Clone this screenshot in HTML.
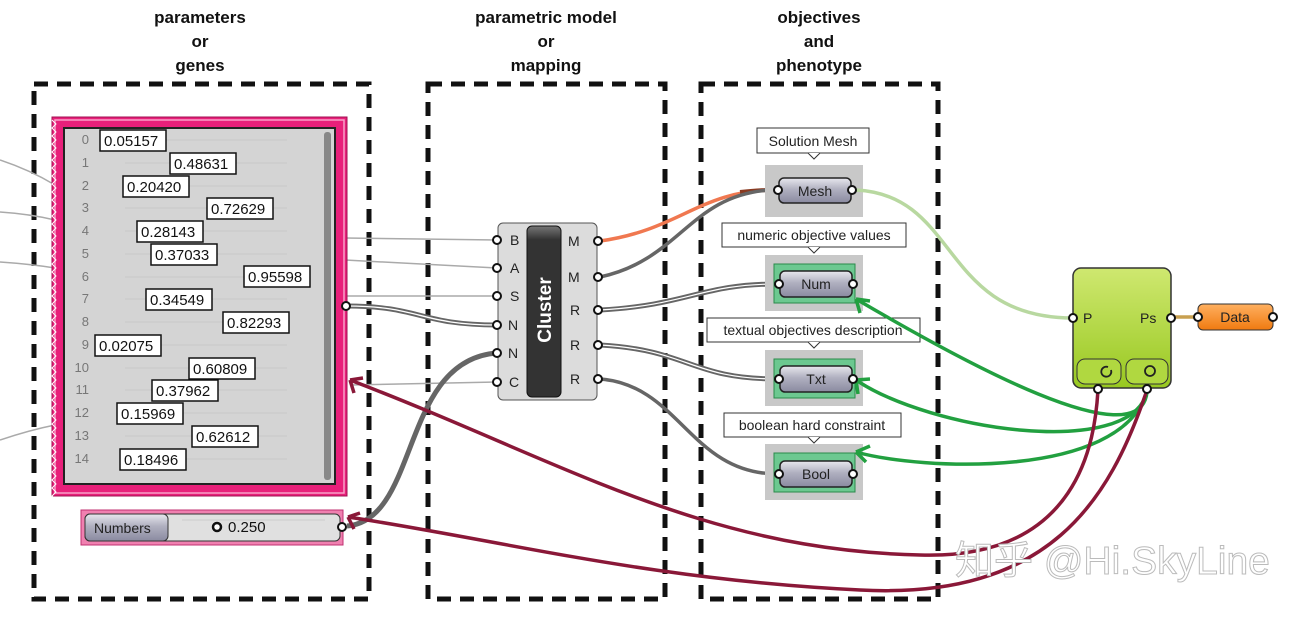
<!DOCTYPE html>
<html><head><meta charset="utf-8"><style>
body{margin:0;background:#fff;width:1305px;height:618px;overflow:hidden}
svg{display:block}
text{font-family:"Liberation Sans",sans-serif}
.t{font-weight:bold;font-size:17px;fill:#111}
.v{font-size:15px;fill:#111}
.i{font-family:"Liberation Mono",monospace;font-size:13px;fill:#777}
.n{font-size:14px;fill:#222}
</style></head><body>
<svg width="1305" height="618" viewBox="0 0 1305 618">
<defs>
<linearGradient id="node" x1="0" y1="0" x2="0" y2="1"><stop offset="0" stop-color="#e8e8ee"/><stop offset=".45" stop-color="#b0b0c0"/><stop offset="1" stop-color="#8a8aa0"/></linearGradient>
<linearGradient id="org" x1="0" y1="0" x2="0" y2="1"><stop offset="0" stop-color="#ffb060"/><stop offset="1" stop-color="#f07a10"/></linearGradient>
<linearGradient id="grn" x1="0" y1="0" x2="0" y2="1"><stop offset="0" stop-color="#cfe870"/><stop offset="1" stop-color="#98c820"/></linearGradient>
<linearGradient id="bar" x1="0" y1="0" x2="0" y2="1"><stop offset="0" stop-color="#777"/><stop offset=".08" stop-color="#333"/><stop offset="1" stop-color="#333"/></linearGradient>
</defs>
<g class="t" text-anchor="middle">
<text x="200" y="23">parameters</text><text x="200" y="47">or</text><text x="200" y="71">genes</text>
<text x="546" y="23">parametric model</text><text x="546" y="47">or</text><text x="546" y="71">mapping</text>
<text x="819" y="23">objectives</text><text x="819" y="47">and</text><text x="819" y="71">phenotype</text>
</g>
<g fill="none" stroke="#111" stroke-width="5" stroke-dasharray="14,9">
<rect x="34" y="84" width="335" height="515"/>
<rect x="428" y="84" width="237" height="515"/>
<rect x="701" y="84" width="237" height="515"/>
</g>
<g stroke="#aaa" stroke-width="1.5" fill="none">
<path d="M0 160 Q30 170 55 185"/><path d="M0 212 Q30 214 55 220"/><path d="M0 262 Q30 264 55 268"/><path d="M0 440 Q30 430 55 425"/>
<path d="M345 238 L497 240"/><path d="M345 260 L497 268"/><path d="M345 296 L497 296"/><path d="M350 385 L497 382"/>
</g>
<rect x="52" y="117" width="295" height="379" fill="#e8207a" stroke="#a01050"/>
<rect x="55" y="120" width="289" height="373" fill="none" stroke="#f7a0c8" stroke-width="1.5"/>
<path d="M52 120 l4 4 -4 4 4 4 -4 4 4 4 -4 4 4 4 -4 4 4 4 -4 4 4 4 -4 4 4 4 -4 4 4 4 -4 4 4 4 -4 4 4 4 -4 4 4 4 -4 4 4 4 -4 4 4 4 -4 4 4 4 -4 4 4 4 -4 4 4 4 -4 4 4 4 -4 4 4 4 -4 4 4 4 -4 4 4 4 -4 4 4 4 -4 4 4 4 -4 4 4 4 -4 4 4 4 -4 4 4 4 -4 4 4 4 -4 4 4 4 -4 4 4 4 -4 4 4 4 -4 4 4 4 -4 4 4 4 -4 4 4 4 -4 4 4 4 -4 4 4 4 -4 4 4 4 -4 4 4 4 -4 4 4 4 -4 4 4 4 -4 4 4 4 -4 4 4 4 -4 4 4 4 -4 4 4 4 -4 4 4 4 -4 4 4 4 -4 4 4 4 -4 4 4 4 -4 4 4 4 -4 4 4 4 -4 4 4 4 -4 4 4 4 -4 4 4 4 -4 4" fill="none" stroke="#fff" stroke-width="1"/>
<rect x="64" y="128" width="271" height="356" fill="#d4d4d4" stroke="#222" stroke-width="2"/>
<rect x="324" y="132" width="7" height="348" rx="3" fill="#888"/>
<g stroke="#c8c8c8" stroke-width="1">
<line x1="125" y1="140" x2="287" y2="140"/><line x1="125" y1="163" x2="287" y2="163"/><line x1="125" y1="186" x2="287" y2="186"/><line x1="125" y1="208" x2="287" y2="208"/><line x1="125" y1="231" x2="287" y2="231"/><line x1="125" y1="254" x2="287" y2="254"/><line x1="125" y1="277" x2="287" y2="277"/><line x1="125" y1="299" x2="287" y2="299"/><line x1="125" y1="322" x2="287" y2="322"/><line x1="125" y1="345" x2="287" y2="345"/><line x1="125" y1="368" x2="287" y2="368"/><line x1="125" y1="390" x2="287" y2="390"/><line x1="125" y1="413" x2="287" y2="413"/><line x1="125" y1="436" x2="287" y2="436"/><line x1="125" y1="459" x2="287" y2="459"/>
</g>
<g class="i" text-anchor="end">
<text x="89" y="144">0</text><text x="89" y="167">1</text><text x="89" y="190">2</text><text x="89" y="212">3</text><text x="89" y="235">4</text><text x="89" y="258">5</text><text x="89" y="281">6</text><text x="89" y="303">7</text><text x="89" y="326">8</text><text x="89" y="349">9</text><text x="89" y="372">10</text><text x="89" y="394">11</text><text x="89" y="417">12</text><text x="89" y="440">13</text><text x="89" y="463">14</text>
</g>
<g fill="#fff" stroke="#111" stroke-width="1.5">
<rect x="100" y="130" width="66" height="21"/><rect x="170" y="153" width="66" height="21"/><rect x="123" y="176" width="66" height="21"/><rect x="207" y="198" width="66" height="21"/><rect x="137" y="221" width="66" height="21"/><rect x="151" y="244" width="66" height="21"/><rect x="244" y="266" width="66" height="21"/><rect x="146" y="289" width="66" height="21"/><rect x="223" y="312" width="66" height="21"/><rect x="95" y="335" width="66" height="21"/><rect x="189" y="358" width="66" height="21"/><rect x="152" y="380" width="66" height="21"/><rect x="117" y="403" width="66" height="21"/><rect x="192" y="426" width="66" height="21"/><rect x="120" y="449" width="66" height="21"/>
</g>
<g class="v">
<text x="104" y="146">0.05157</text><text x="174" y="169">0.48631</text><text x="127" y="192">0.20420</text><text x="211" y="214">0.72629</text><text x="141" y="237">0.28143</text><text x="155" y="260">0.37033</text><text x="248" y="282">0.95598</text><text x="150" y="305">0.34549</text><text x="227" y="328">0.82293</text><text x="99" y="351">0.02075</text><text x="193" y="374">0.60809</text><text x="156" y="396">0.37962</text><text x="121" y="419">0.15969</text><text x="196" y="442">0.62612</text><text x="124" y="465">0.18496</text>
</g>
<rect x="81" y="510" width="262" height="35" fill="#f080b0" stroke="#c03070"/>
<rect x="85" y="514" width="255" height="27" rx="5" fill="#e0e0e0" stroke="#333"/>
<rect x="85" y="514" width="83" height="27" rx="5" fill="url(#node)" stroke="#333"/>
<text x="94" y="533" class="n" font-size="15">Numbers</text>
<line x1="182" y1="520" x2="325" y2="520" stroke="#ccc"/>
<circle cx="217" cy="527" r="4" fill="#fff" stroke="#111" stroke-width="2.5"/>
<text x="228" y="532" font-size="15" fill="#111">0.250</text>
<g fill="none" stroke="#666" stroke-width="5"><path d="M347 306 C420 306 420 325 497 325"/><path d="M347 526 C420 520 400 360 497 353"/></g>
<g fill="none" stroke="#fff" stroke-width="1.3"><path d="M347 306 C420 306 420 325 497 325"/></g>
<rect x="498" y="223" width="99" height="177" rx="5" fill="#dcdcdc" stroke="#555"/>
<rect x="527" y="226" width="34" height="171" rx="5" fill="url(#bar)" stroke="#111"/>
<text transform="translate(551 310) rotate(-90)" text-anchor="middle" font-weight="bold" font-size="19" fill="#fff">Cluster</text>
<g class="n" font-size="14">
<text x="510" y="245">B</text><text x="510" y="273">A</text><text x="510" y="301">S</text><text x="508" y="330">N</text><text x="508" y="358">N</text><text x="509" y="387">C</text>
<text x="568" y="246">M</text><text x="568" y="282">M</text><text x="570" y="315">R</text><text x="570" y="350">R</text><text x="570" y="384">R</text>
</g>
<path d="M600 241 C680 230 700 190 775 190" fill="none" stroke="#f07850" stroke-width="3.5"/>
<path d="M740 192 C760 190 765 190 775 190" fill="none" stroke="#8a3a20" stroke-width="4"/>
<path d="M600 277 C680 260 690 195 770 190" fill="none" stroke="#666" stroke-width="3.5"/>
<path d="M600 310 C690 305 700 284 778 284" fill="none" stroke="#666" stroke-width="5"/><path d="M600 310 C690 305 700 284 778 284" fill="none" stroke="#fff" stroke-width="1.2"/>
<path d="M600 345 C690 350 690 379 778 379" fill="none" stroke="#666" stroke-width="5"/><path d="M600 345 C690 350 690 379 778 379" fill="none" stroke="#fff" stroke-width="1.2"/>
<path d="M600 379 C680 385 690 474 778 474" fill="none" stroke="#666" stroke-width="3.5"/>
<g fill="#fff" stroke="#333">
<rect x="757" y="128" width="112" height="25"/><rect x="722" y="223" width="184" height="24"/><rect x="707" y="318" width="213" height="24"/><rect x="724" y="413" width="177" height="24"/>
</g>
<g fill="#fff" stroke="#333"><path d="M808 153 l6 6 6 -6"/><path d="M808 247 l6 6 6 -6"/><path d="M808 342 l6 6 6 -6"/><path d="M808 437 l6 6 6 -6"/></g>
<g class="n" text-anchor="middle">
<text x="813" y="146">Solution Mesh</text><text x="814" y="240">numeric objective values</text><text x="813" y="335">textual objectives description</text><text x="812" y="430">boolean hard constraint</text>
</g>
<g fill="#c8c8c8"><rect x="765" y="165" width="98" height="52"/><rect x="765" y="255" width="98" height="56"/><rect x="765" y="350" width="98" height="56"/><rect x="765" y="444" width="98" height="56"/></g>
<g fill="#6cc890" stroke="#2a8a4a"><rect x="774" y="264" width="81" height="39"/><rect x="774" y="359" width="81" height="39"/><rect x="774" y="453" width="81" height="39"/></g>
<g fill="url(#node)" stroke="#222" stroke-width="1.5">
<rect x="779" y="178" width="72" height="25" rx="5"/><rect x="780" y="271" width="72" height="26" rx="5"/><rect x="780" y="366" width="72" height="26" rx="5"/><rect x="780" y="461" width="72" height="26" rx="5"/>
</g>
<g class="n" text-anchor="middle" font-size="15"><text x="815" y="196">Mesh</text><text x="816" y="289">Num</text><text x="816" y="384">Txt</text><text x="816" y="479">Bool</text></g>
<path d="M856 190 C960 195 940 318 1073 318" fill="none" stroke="#b8d8a0" stroke-width="3.5"/>
<rect x="1073" y="268" width="98" height="120" rx="8" fill="url(#grn)" stroke="#333" stroke-width="1.5"/>
<rect x="1077" y="359" width="44" height="25" rx="8" fill="#b0d840" stroke="#333"/>
<rect x="1126" y="359" width="42" height="25" rx="8" fill="#b0d840" stroke="#333"/>
<text x="1083" y="323" class="n" font-size="15">P</text><text x="1140" y="323" class="n" font-size="15">Ps</text>
<path d="M1108 367 a5 5 0 1 0 3 3" fill="none" stroke="#222" stroke-width="1.8"/>
<circle cx="1150" cy="371" r="5" fill="none" stroke="#222" stroke-width="1.8"/>
<path d="M1172 317 L1198 317" stroke="#c8a050" stroke-width="3.5"/>
<rect x="1198" y="304" width="75" height="26" rx="5" fill="url(#org)" stroke="#333"/>
<text x="1235" y="322" text-anchor="middle" class="n" font-size="15">Data</text>
<g fill="none" stroke="#22a040" stroke-width="3.5">
<path d="M1147 392 C1140 460 960 360 856 299"/>
<path d="M1147 392 C1130 460 930 430 856 380"/>
<path d="M1147 392 C1120 480 920 470 856 452"/>
<path d="M856 299 l4 14 M856 299 l14 2 M856 380 l2 14 M856 380 l14 -1 M856 452 l14 -6 M856 452 l10 10"/>
</g>
<g fill="none" stroke="#8a1838" stroke-width="3.5">
<path d="M1098 390 C1095 440 1080 560 920 555 C700 550 560 460 350 380"/>
<path d="M1147 390 C1110 500 1050 600 860 590 C650 580 500 540 348 517"/>
<path d="M350 380 l4 13 M350 380 l13 -2 M348 517 l6 12 M348 517 l12 -4"/>
</g>
<g fill="#fff" stroke="#111" stroke-width="2">
<circle cx="497" cy="240" r="4"/><circle cx="497" cy="268" r="4"/><circle cx="497" cy="296" r="4"/><circle cx="497" cy="325" r="4"/><circle cx="497" cy="353" r="4"/><circle cx="497" cy="382" r="4"/>
<circle cx="598" cy="241" r="4"/><circle cx="598" cy="277" r="4"/><circle cx="598" cy="310" r="4"/><circle cx="598" cy="345" r="4"/><circle cx="598" cy="379" r="4"/>
<circle cx="346" cy="306" r="4"/><circle cx="342" cy="527" r="4"/>
<circle cx="778" cy="190" r="4"/><circle cx="852" cy="190" r="4"/><circle cx="779" cy="284" r="4"/><circle cx="853" cy="284" r="4"/><circle cx="779" cy="379" r="4"/><circle cx="853" cy="379" r="4"/><circle cx="779" cy="474" r="4"/><circle cx="853" cy="474" r="4"/>
<circle cx="1073" cy="318" r="4"/><circle cx="1171" cy="318" r="4"/><circle cx="1198" cy="317" r="4"/><circle cx="1273" cy="317" r="4"/><circle cx="1098" cy="389" r="4"/><circle cx="1147" cy="389" r="4"/>
</g>
<text x="955" y="574" font-family="'Liberation Sans','Noto Sans CJK SC',sans-serif" font-size="39" fill="#fff" stroke="#bbb" stroke-width="1">知乎 @Hi.SkyLine</text>
</svg>
</body></html>
